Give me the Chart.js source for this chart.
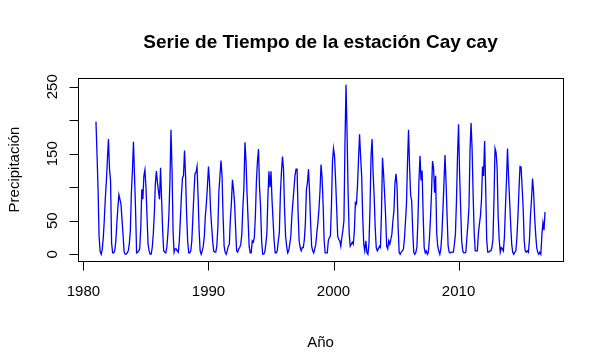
<!DOCTYPE html>
<html>
<head>
<meta charset="utf-8">
<script src="https://cdn.jsdelivr.net/npm/chart.js@4.4.1/dist/chart.umd.min.js"></script>
<style>
	body { margin: 0; background: #fff; }
	canvas { display: block; }
</style>
</head>
<body>
<canvas id="myChart" width="604" height="359"></canvas>
<script>
// Monthly precipitation, one row per year (Jan..Dec)

var StartYear = 1981;

var Precip_80s = [
	198,150, 97, 27,  4,  0,  7, 24, 51, 84,109,142,	// 1981
	172,127,110, 17,  2,  2,  5, 18, 45, 69, 89, 82,	// 1982
	 75, 52, 29,  4,  0,  0,  2,  5, 15, 35, 92,125,	// 1983
	168,117, 67,  2,  3,  5,  8, 40, 97, 82,117,126,	// 1984
	100, 57, 15,  5,  0,  0, 10, 30, 60,105,124,107,	// 1985
	 94, 82,129, 82, 36,  5,  3,  2, 10, 30, 59,110,	// 1986
	186,127, 34,  3,  8,  8,  5,  3, 20, 52, 87,114,	// 1987
	117,155,117, 60, 20,  2,  2,  5, 20, 55, 90,120,	// 1988
	122,131, 87, 35,  5,  0,  5, 12, 27, 57, 77,102 	// 1989
	];

var Precip_90s = [
	131,107, 67, 42, 20,  5,  3,  3, 12, 40, 94,117,	// 1990
	140,117, 57, 12,  3,  0,  5, 12, 15, 52, 77,111,	// 1991
	 97, 77, 40,  5,  3,  8, 10, 15, 30, 70,100,167,	// 1992
	140, 91, 52, 12,  2,  2, 20, 18, 25, 57,109,139,	// 1993
	157,100, 70, 20,  0,  0,  3, 15, 30, 84,124,100,	// 1994
	124, 80, 50, 20,  2,  2,  5, 20, 32, 90,122,146,	// 1995
	127, 67, 27, 12,  2,  5, 15, 27, 57, 77, 97,117,	// 1996
	127,127, 62, 20, 10,  5, 10, 10, 22, 47, 97,107,	// 1997
	127, 92, 47, 12,  5,  2,  8, 15, 32, 47, 67, 94,	// 1998
	134,115, 75, 20,  2,  2,  2, 20, 25, 27, 72,139 	// 1999
	];

var Precip_00s = [
	158,146,110, 70, 27, 22, 20, 12, 25, 36, 50,167,	// 2000
	253,180, 92, 32, 12, 15, 18, 15, 35, 77, 75,102,	// 2001
	142,179,146,117, 57, 15,  5, 20,  3,  0, 15, 67,	// 2002
	146,172,121, 87, 40, 10,  5,  8, 12, 10, 60,144,	// 2003
	121, 91, 57, 12,  8, 20, 15, 22, 30, 50, 65,107,	// 2004
	120,100, 40,  2,  0,  3,  5,  7, 22, 47, 74,137,	// 2005
	186,130, 88, 80, 35,  3,  0,  3, 10, 50,110,147,	// 2006
	110,125, 60, 10,  2,  5,  0,  3, 22, 52, 90,139,	// 2007
	129, 92,117, 32, 12,  5,  0,  8, 30, 67,107,148,	// 2008
	107, 57, 12,  3,  2,  3,  3,  3, 15, 30, 80,147 	// 2009
	];

var Precip_10s = [
	194,120, 70, 20,  5,  2,  2,  3, 25, 45, 70,155,	// 2010
	196,157, 88, 32,  5,  5,  5, 30, 45, 57, 81,131,	// 2011
	117,169,102, 22,  3,  3,  5,  5, 10, 22, 81,158,	// 2012
	152,130, 57, 22,  3, 10,  8,  5, 25, 70,110,158,	// 2013
	115, 80, 45, 15,  3,  0,  3,  5, 25, 57, 97,131,	// 2014
	130,100, 69, 20,  5,  3,  5,  3, 20, 57, 81,113,	// 2015
	 94, 57, 30, 10,  3,  0,  3,  0, 30, 47, 36, 63 	// 2016
	];

var XTicks = [1980, 1990, 2000, 2010];
var YTicks = [0, 50, 100, 150, 200, 250];
var YLabels = ["0", "50", "", "150", "", "250"];

var Title = "Serie de Tiempo de la estación Cay cay";
var XTitle = "Año";
var YTitle = "Precipitación";

// build points

var Precip = Precip_80s.concat(Precip_90s, Precip_00s, Precip_10s);
var Points = [];
for (var inx = 0; inx < Precip.length; inx++) {
	Points.push({x: StartYear + inx / 12, y: Precip[inx]});
	}

// R style axis ranges (4% extension)
var xMin = StartYear, xMax = StartYear + (Precip.length - 1) / 12;
var yMin = Math.min.apply(null, Precip), yMax = Math.max.apply(null, Precip);
var xPad = (xMax - xMin) * 0.04, yPad = (yMax - yMin) * 0.04;

var FONT = '"Liberation Sans", Arial, sans-serif';

var rAxes = {
	id: 'rAxes',
	afterDraw: function(chart) {
		var ctx = chart.ctx;
		var a = chart.chartArea;
		var xs = chart.scales.x, ys = chart.scales.y;
		var L = Math.round(a.left) + 0.5, R = Math.round(a.right) + 0.5;
		var T = Math.round(a.top) + 0.5, B = Math.round(a.bottom) + 0.5;
		ctx.save();
		ctx.strokeStyle = '#000';
		ctx.lineWidth = 1;
		ctx.strokeRect(L, T, R - L, B - T);

		ctx.fillStyle = '#000';
		ctx.font = '15px ' + FONT;
		// x axis
		ctx.beginPath();
		for (var i = 0; i < XTicks.length; i++) {
			var px = Math.round(xs.getPixelForValue(XTicks[i])) + 0.5;
			ctx.moveTo(px, B);
			ctx.lineTo(px, B + 9);
			}
		ctx.stroke();
		ctx.textAlign = 'center';
		ctx.textBaseline = 'alphabetic';
		for (var i = 0; i < XTicks.length; i++) {
			ctx.fillText(String(XTicks[i]), xs.getPixelForValue(XTicks[i]), 296);
			}
		// y axis
		ctx.beginPath();
		for (var j = 0; j < YTicks.length; j++) {
			var py = Math.round(ys.getPixelForValue(YTicks[j])) + 0.5;
			ctx.moveTo(L, py);
			ctx.lineTo(L - 9, py);
			}
		ctx.stroke();
		for (var j = 0; j < YTicks.length; j++) {
			if (!YLabels[j]) continue;
			ctx.save();
			ctx.translate(57, ys.getPixelForValue(YTicks[j]));
			ctx.rotate(-Math.PI / 2);
			ctx.fillText(YLabels[j], 0, 0);
			ctx.restore();
			}
		// titles
		ctx.fillText(XTitle, (a.left + a.right) / 2, 347);
		ctx.save();
		ctx.translate(19, (a.top + a.bottom) / 2);
		ctx.rotate(-Math.PI / 2);
		ctx.fillText(YTitle, 0, 0);
		ctx.restore();
		ctx.font = 'bold 19px ' + FONT;
		ctx.fillText(Title, (a.left + a.right) / 2, 48);
		ctx.restore();
		}
	};

var Ctxt = document.getElementById("myChart").getContext("2d");
var ChartInst = new Chart(Ctxt, {
	type: 'line',
	data: {
		datasets: [{
			data: Points,
			borderColor: '#0000FF',
			backgroundColor: '#0000FF',
			borderWidth: 1.3,
			pointRadius: 0,
			tension: 0,
			fill: false
			}]
		},
	options: {
		responsive: false,
		animation: false,
		layout: { padding: { left: 78, right: 41, top: 78, bottom: 98 } },
		plugins: { legend: { display: false }, tooltip: { enabled: false } },
		scales: {
			x: { type: 'linear', display: false, min: xMin - xPad, max: xMax + xPad },
			y: { type: 'linear', display: false, min: yMin - yPad, max: yMax + yPad }
			}
		},
	plugins: [rAxes]
	});
</script>
</body>
</html>
